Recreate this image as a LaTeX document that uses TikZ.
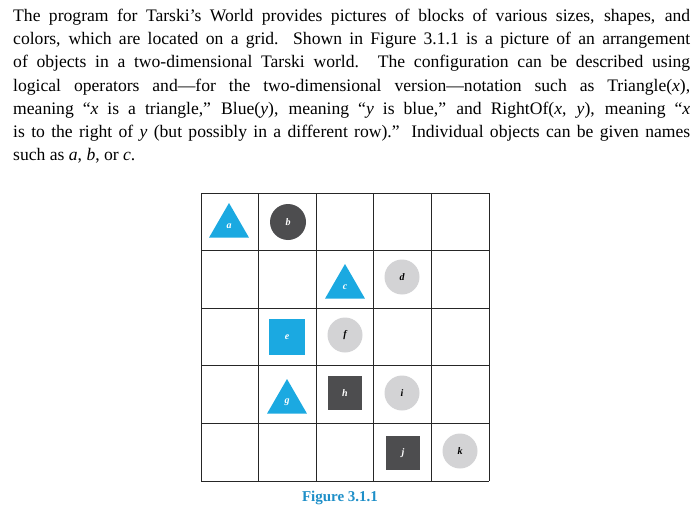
\documentclass[tikz,border=0pt]{standalone}
\usepackage{fontspec}
\setmainfont{Liberation Serif}
\usetikzlibrary{shapes.geometric}
\definecolor{cy}{HTML}{1BA9E1}
\definecolor{dk}{HTML}{4D4D4F}
\definecolor{lt}{HTML}{D3D3D5}
\definecolor{capblue}{HTML}{1E8FC8}
\newcommand{\jl}[1]{\makebox[677pt][s]{#1}\\}
\begin{document}
\begin{tikzpicture}[x=1pt,y=-1pt,
  lab/.style={font=\fontsize{10}{12}\selectfont\itshape\bfseries},
  tri/.style={lab,regular polygon,regular polygon sides=3,fill=cy,minimum size=46pt,inner sep=0pt,text=white},
  dcirc/.style={lab,circle,fill=dk,minimum size=36pt,text=white},
  lcirc/.style={lab,circle,fill=lt,minimum size=35pt,text=black},
  bsq/.style={lab,rectangle,fill=cy,minimum size=36pt,text=white},
  dsq/.style={lab,rectangle,fill=dk,minimum size=34pt,text=white}]
\useasboundingbox (0,0) rectangle (700,513);
\node[anchor=north west,inner sep=0pt,align=left,font=\fontsize{17.6}{23.2}\selectfont] (txt) at (13,9)
{\jl{The program for Tarski's World provides pictures of blocks of various sizes, shapes, and}
\jl{colors, which are located on a grid. Shown in Figure 3.1.1 is a picture of an arrangement}
\jl{of objects in a two-dimensional Tarski world. The configuration can be described using}
\jl{logical operators and---for the two-dimensional version---notation such as Triangle(\textit{x}),}
\jl{meaning ``\textit{x} is a triangle,'' Blue(\textit{y}), meaning ``\textit{y} is blue,'' and RightOf(\textit{x}, \textit{y}), meaning ``\textit{x}}
\jl{is to the right of \textit{y} (but possibly in a different row).'' Individual objects can be given names}
such as \textit{a}, \textit{b}, or \textit{c}.};
\foreach \k in {0,...,5}{
  \draw[line width=0.9pt,black!85] ({201+57.6*\k},193) -- ({201+57.6*\k},481);
  \draw[line width=0.9pt,black!85] (201,{193+57.6*\k}) -- (489,{193+57.6*\k});
}
\node[tri] (a) at (229,226) {a};
\node[dcirc] (b) at (288,222) {b};
\node[tri] (c) at (345,287) {c};
\node[lcirc] (d) at (402,277) {d};
\node[bsq] (e) at (287,337) {e};
\node[lcirc] (f) at (345,335) {f};
\node[tri] (g) at (287,402) {g};
\node[dsq] (h) at (345,393) {h};
\node[lcirc] (i) at (402,393) {i};
\node[dsq] (j) at (403,453) {j};
\node[lcirc] (k) at (460,451) {k};
\node[font=\fontsize{15}{17}\selectfont\bfseries,text=capblue] (cap) at (340,498) {Figure 3.1.1};
\end{tikzpicture}
\end{document}
